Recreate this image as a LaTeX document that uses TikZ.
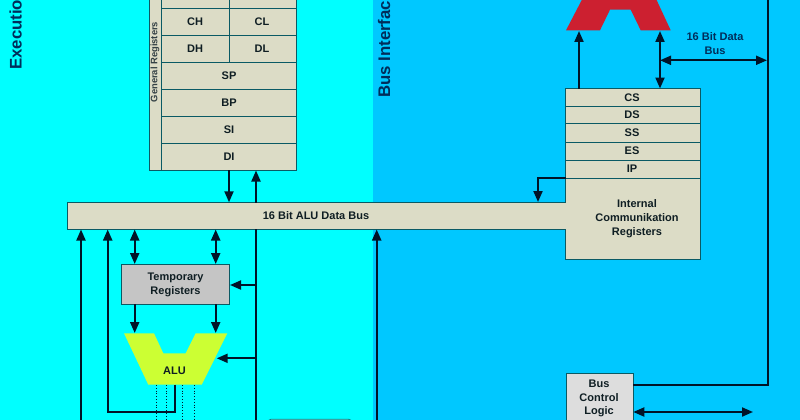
\documentclass[tikz,border=0pt]{standalone}
\usepackage{fontspec}
\setmainfont{Liberation Sans}
\usetikzlibrary{arrows.meta}
\definecolor{eubg}{RGB}{0,255,255}
\definecolor{biubg}{RGB}{0,200,255}
\definecolor{regfill}{RGB}{220,220,198}
\definecolor{edge}{RGB}{10,90,100}
\definecolor{wirec}{RGB}{0,20,40}
\definecolor{tmpfill}{RGB}{197,197,197}
\definecolor{alufill}{RGB}{204,255,51}
\definecolor{adderfill}{RGB}{204,32,48}
\definecolor{ctlfill}{RGB}{221,221,221}
\definecolor{buslabel}{RGB}{0,45,90}
\definecolor{inkc}{RGB}{15,30,35}
\tikzset{
  x=1pt,y=-1pt,
  box/.style={draw=edge,line width=0.8pt,fill=regfill},
  cell/.style={font=\bfseries\fontsize{11}{13.7}\selectfont,text=inkc,inner sep=0pt,align=center},
  wire/.style={line width=2pt,draw=wirec},
  tip/.style={-{Triangle[length=11pt,width=9pt]}},
  tips/.style={{Triangle[length=11pt,width=9pt]}-{Triangle[length=11pt,width=9pt]}},
  probe/.style={line width=0.8pt,draw=wirec,dotted},
  side/.style={font=\bfseries\fontsize{16.8}{18}\selectfont,text=buslabel,rotate=90,inner sep=0pt,anchor=west},
}
\begin{document}
\begin{tikzpicture}
\useasboundingbox (0,0) rectangle (800,420);
\clip (0,0) rectangle (800,420);
\fill[eubg] (0,0) rectangle (372.5,420);
\fill[biubg] (372.5,0) rectangle (800,420);
\node[side] (eulabel) at (15.5,70) {Execution};
\node[side] (biulabel) at (384,98) {Bus Interface};
% general registers
\node[box,minimum width=147.6pt,minimum height=180.3pt,anchor=north west,inner sep=0pt] (gen) at (148.7,-10) {};
\draw[edge,line width=0.8pt] (161.7,-10) -- (161.7,170.3);
\foreach \yy in {8.3,35.3,62.3,89.3,116.3,143.3} \draw[edge,line width=0.8pt] (161.7,\yy) -- (296.3,\yy);
\draw[edge,line width=0.8pt] (229.3,-10) -- (229.3,62.3);
\node[cell] (ch) at (195,21.5) {CH};
\node[cell] (cl) at (262,21.5) {CL};
\node[cell] (dh) at (195,48.5) {DH};
\node[cell] (dl) at (262,48.5) {DL};
\node[cell] (sp) at (229,75.5) {SP};
\node[cell] (bp) at (229,102.5) {BP};
\node[cell] (si) at (229,129.5) {SI};
\node[cell] (di) at (229,156.5) {DI};
\node[font=\bfseries\fontsize{9.4}{11}\selectfont,text=inkc!85!white,rotate=90,inner sep=0pt] (genlabel) at (155,62) {General Registers};
% ALU bus + internal communication registers
\draw[box] (67.7,202.5) -- (565.7,202.5) -- (565.7,88.7) -- (700,88.7) -- (700,259.3) -- (565.7,259.3) -- (565.7,229) -- (67.7,229) -- cycle;
\foreach \yy in {106,123.7,142.7,160.3,178.3} \draw[edge,line width=0.8pt] (565.7,\yy) -- (700,\yy);
\node[cell] (cs) at (632,97.5) {CS};
\node[cell] (ds) at (632,115) {DS};
\node[cell] (ss) at (632,132.5) {SS};
\node[cell] (es) at (632,151) {ES};
\node[cell] (ip) at (632,169) {IP};
\node[cell] (icr) at (637,218.5) {Internal\\Communikation\\Registers};
\node[cell] (alubus) at (316,215.5) {16 Bit ALU Data Bus};
% adder
\fill[adderfill] (588,-12) -- (651,-12) -- (670.7,30.3) -- (640.7,30.3) -- (630.7,9.7) -- (610,9.7) -- (600,30.3) -- (566,30.3) -- cycle;
% temp registers
\node[draw=edge,line width=0.8pt,fill=tmpfill,minimum width=108.3pt,minimum height=40pt,anchor=north west,cell] (tmp) at (121,264.3) {Temporary\\Registers};
% ALU
\fill[alufill] (124,333.3) -- (154,333.3) -- (163.3,353.3) -- (185.7,353.3) -- (195.7,333.3) -- (227.3,333.3) -- (201.7,384.7) -- (148.3,384.7) -- cycle;
\node[cell] (alu) at (174.5,370.3) {ALU};
% bus control
\node[draw=edge,line width=0.8pt,fill=ctlfill,minimum width=67pt,minimum height=60pt,inner sep=0pt,anchor=north west] (ctl) at (566,372.5) {};
\node[cell] (ctltxt) at (599,398.5) {Bus\\Control\\Logic};
% bottom box
\draw[draw=edge!80!eubg,line width=0.8pt,fill=regfill,rounded corners=3pt] (268,430) -- (268,419.3) -- (351.7,419.3) -- (351.7,430);
% wires
\coordinate (a1) at (81,430); \coordinate (a1t) at (81,229.5);
\draw[wire,tip] (a1) -- (a1t);
\draw[wire,tip] (175,384.7) -- (175,412) -- (107.7,412) -- (107.7,229.5);
\draw[wire,tips] (134.7,229.5) -- (134.7,264);
\draw[wire,tips] (215.7,229.5) -- (215.7,264);
\draw[wire,tip] (134.7,304) -- (134.7,333);
\draw[wire,tip] (215.7,304) -- (215.7,333);
\draw[wire] (256,229) -- (256,430);
\draw[wire,tip] (256,285) -- (230,285);
\draw[wire,tip] (256,358.3) -- (216.7,358.3);
\draw[wire,tip] (229,170.3) -- (229,202.3);
\draw[wire,tip] (256,202.5) -- (256,170.5);
\draw[wire,tip] (376.7,430) -- (376.7,229.5);
\draw[wire,tip] (565.7,178.3) -- (538,178.3) -- (538,202);
\draw[wire,tip] (579,88.7) -- (579,31);
\draw[wire,tips] (660,88.5) -- (660,31);
\draw[wire,tips] (660,60.3) -- (767,60.3);
\draw[wire] (767.7,-10) -- (767.7,385) -- (633,385);
\draw[wire,tips] (633.3,412) -- (753,412);
\node[cell,text=buslabel] (dbus) at (715,43.3) {16 Bit Data\\Bus};
\foreach \xx in {156,166.7,182.7,194} \draw[probe] (\xx,385) -- (\xx,430);
\end{tikzpicture}
\end{document}
